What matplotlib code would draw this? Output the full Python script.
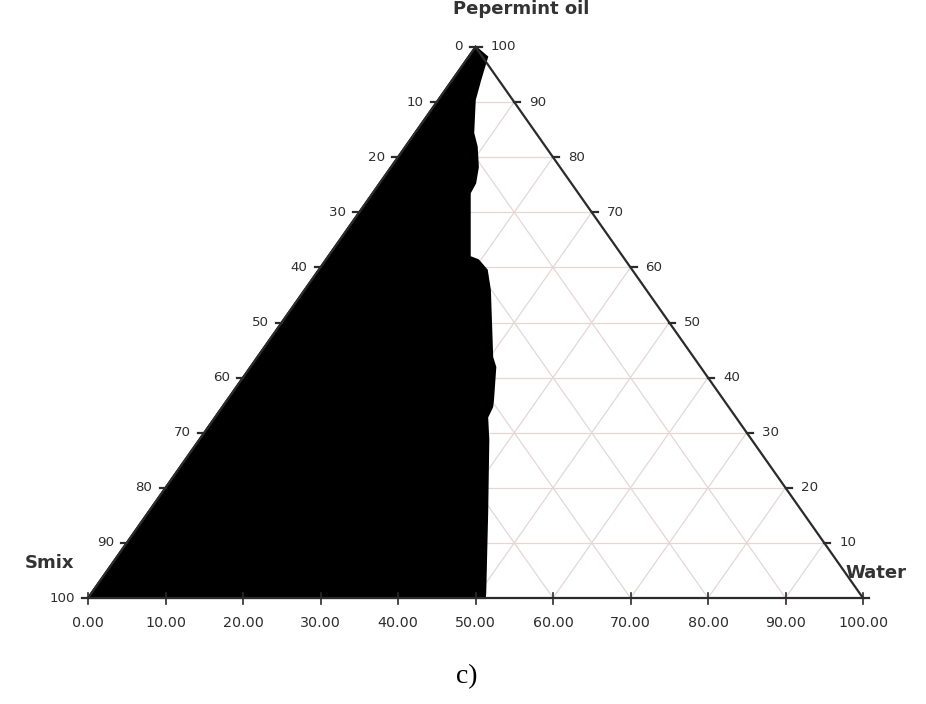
import numpy as np
import matplotlib
matplotlib.use("Agg")
import matplotlib.pyplot as plt
from matplotlib.patches import Polygon

# ---- data ----
ticks = [0, 10, 20, 30, 40, 50, 60, 70, 80, 90, 100]
water_tick_labels = ["0.00", "10.00", "20.00", "30.00", "40.00", "50.00",
                     "60.00", "70.00", "80.00", "90.00", "100.00"]
smix_tick_labels = ["0", "10", "20", "30", "40", "50", "60", "70", "80", "90", "100"]
oil_tick_labels = ["100", "90", "80", "70", "60", "50", "40", "30", "20", "10", ""]

# right boundary of the (black) region, in % water / % peppermint oil
boundary_water = [0, 2.4, 3.6, 4.7, 7.5, 9.2, 11.2, 12.3, 12.5, 18.3, 19.7, 21.7,
                  23.9, 30.3, 31.6, 34.3, 34.8, 35.1, 37.3, 43.8, 50.8, 51.2]
boundary_oil = [100, 98.2, 94.0, 90.4, 84.4, 81.9, 78.2, 75.3, 73.5, 61.9, 61.3, 59.5,
                55.9, 43.7, 41.9, 35.9, 34.7, 32.8, 28.7, 15.4, 0.9, 0]


def tern(w, o):
    w = np.asarray(w, float)
    o = np.asarray(o, float)
    return w + o / 2.0, o


PX_X = 7.75   # pixels per unit horizontally
PX_Y = 5.51   # pixels per unit vertically

fig = plt.figure(figsize=(9.26, 7.04), dpi=100)
ax = fig.add_axes([0, 0, 1, 1])
ax.set_xlim(-88 / PX_X, (926 - 88) / PX_X)
ax.set_ylim(-(704 - 598) / PX_Y, 598 / PX_Y)
ax.axis("off")

grid_col = "#e6d6d6"
for t in ticks[1:-1]:
    x, y = tern([0, 100 - t], [t, t])
    ax.plot(x, y, color=grid_col, lw=0.9, zorder=1)
    x, y = tern([t, t], [0, 100 - t])
    ax.plot(x, y, color=grid_col, lw=0.9, zorder=1)
    x, y = tern([100 - t, 0], [0, 100 - t])
    ax.plot(x, y, color=grid_col, lw=0.9, zorder=1)

# black region
bw = list(boundary_water) + [0]
bo = list(boundary_oil) + [0]
px, py = tern(bw, bo)
ax.add_patch(Polygon(np.column_stack([px, py]), closed=True, facecolor="black",
                     edgecolor="black", lw=1.5, zorder=2))

# triangle edges
edge_col = "#2b2b2b"
x, y = tern([0, 100, 0, 0], [0, 0, 100, 0])
ax.plot(x, y, color=edge_col, lw=1.6, zorder=3, solid_joinstyle="miter")

lab_col = "#2e2e2e"
dx = 1 / PX_X
dy = 1 / PX_Y
for i, t in enumerate(ticks):
    bx, by = tern(t, 0)
    ax.plot([bx, bx], [by - 6 * dy, by + 5 * dy], color=edge_col, lw=1.2, zorder=4)
    ax.text(bx, by - 25 * dy, water_tick_labels[i], ha="center", va="center",
            fontsize=10.3, color=lab_col)
    lx, ly = tern(0, 100 - t)
    ax.plot([lx - 6 * dx, lx], [ly, ly], color=edge_col, lw=1.6, zorder=4)
    ax.text(lx - 13 * dx, ly, smix_tick_labels[i], ha="right", va="center",
            fontsize=9.6, color=lab_col)
    rx, ry = tern(t, 100 - t)
    ax.plot([rx, rx + 6 * dx], [ry, ry], color=edge_col, lw=1.6, zorder=4)
    if oil_tick_labels[i]:
        ax.text(rx + 15 * dx, ry, oil_tick_labels[i], ha="left", va="center",
                fontsize=9.6, color=lab_col)

title_kw = dict(ha="center", va="center", fontsize=13, fontweight="bold",
                color="#333333", zorder=5)
ax.text((521 - 88) / PX_X, (598 - 9) / PX_Y, "Pepermint oil", **title_kw)
ax.text((49 - 88) / PX_X, (598 - 563) / PX_Y, "Smix", **title_kw)
ax.text((876 - 88) / PX_X, (598 - 573) / PX_Y, "Water", **title_kw)
ax.text((467 - 88) / PX_X, (598 - 677) / PX_Y, "c)", ha="center", va="center",
        fontsize=20, family="Liberation Serif", color="black")

fig.savefig("out.png", dpi=100, facecolor="white")
